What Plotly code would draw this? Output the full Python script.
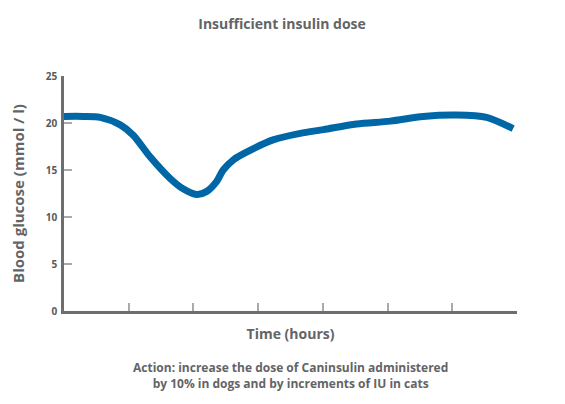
import plotly.graph_objects as go

# Blood glucose curve (hours, mmol/l)
hours = [0, 0.3, 0.56, 0.87, 1.07, 1.33, 1.64, 1.84, 2.05, 2.2, 2.36, 2.46,
         2.62, 2.82, 3.23, 3.65, 4.01, 4.52, 5.04, 5.55, 6.07, 6.53, 6.94]
glucose = [20.7, 20.7, 20.6, 19.8, 18.7, 16.4, 14.1, 13.0, 12.4, 12.7, 13.8, 15.0,
           16.1, 16.9, 18.2, 18.9, 19.3, 19.9, 20.2, 20.7, 20.85, 20.6, 19.4]

y_ticks = [0, 5, 10, 15, 20, 25]
x_ticks = [1, 2, 3, 4, 5, 6, 7]

title_text = "Insufficient insulin dose"
x_title = "Time (hours)"
y_title = "Blood glucose (mmol / l)"
action_text = ("Action: increase the dose of Caninsulin administered<br>"
               "by 10% in dogs and by increments of IU in cats")

grey = "#636466"
font_family = "Open Sans"

fig = go.Figure()

fig.add_trace(go.Scatter(
    x=hours, y=glucose, mode="lines",
    line=dict(color="#0067a6", width=7, shape="spline", smoothing=0.8),
    hoverinfo="skip",
))

# the page body adds an 8px offset, so margins are trimmed to compensate
fig.update_layout(
    width=565, height=404,
    margin=dict(l=56, r=56, t=68, b=101),
    plot_bgcolor="white", paper_bgcolor="white",
    showlegend=False,
    font=dict(family=font_family, color=grey),
    title=dict(text=title_text, x=0.485, xanchor="center", y=0.96, yanchor="middle",
               font=dict(size=14, weight="bold", color=grey)),
    annotations=[
        dict(text=action_text, xref="paper", yref="paper", x=0.5, y=0,
             yshift=-46, yanchor="top", showarrow=False, align="center",
             font=dict(size=12, weight="bold", color=grey)),
    ],
)

fig.update_xaxes(
    range=[0, 7], tickvals=x_ticks, showticklabels=False,
    ticks="inside", ticklen=8, tickwidth=1.5, tickcolor="#aaaaaa",
    showline=True, linecolor="#6d6e71", linewidth=2.5,
    showgrid=False, zeroline=False, automargin=False,
    title=dict(text=x_title, standoff=17, font=dict(size=14, weight="bold", color=grey)),
)

fig.update_yaxes(
    range=[0, 25], tickvals=y_ticks,
    ticks="inside", ticklen=8, tickwidth=1.5, tickcolor="#aaaaaa",
    showline=True, linecolor="#6d6e71", linewidth=2.5,
    showgrid=False, zeroline=False, automargin=False,
    ticklabelstandoff=2,
    tickfont=dict(size=10, weight="bold", color="#58595b"),
    title=dict(text=y_title, standoff=19, font=dict(size=15, weight="bold", color=grey)),
)

fig.write_html("out.html")
